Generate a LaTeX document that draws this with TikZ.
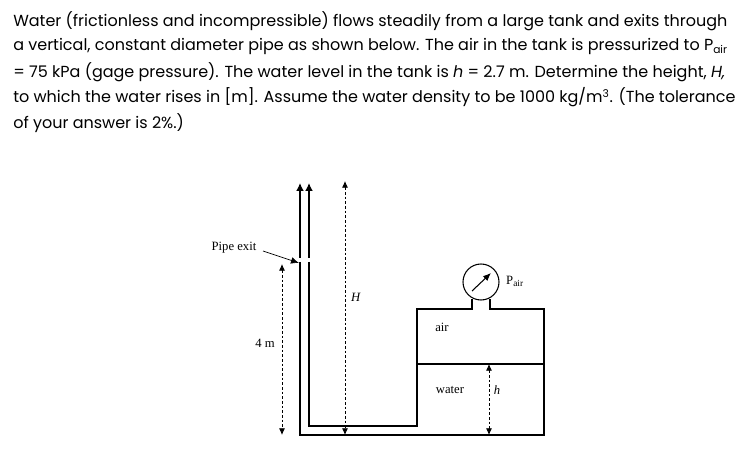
\documentclass[tikz,border=0pt]{standalone}
\usepackage{fontspec}
\setmainfont{Liberation Serif}
\newfontfamily\pop{Poppins}
\usetikzlibrary{arrows.meta}
\begin{document}
\begin{tikzpicture}[x=0.75pt,y=-0.75pt,
  para/.style={anchor=west,inner sep=0,font=\pop\fontsize{12pt}{14pt}\selectfont},
  lab/.style={inner sep=1pt,font=\fontsize{9.5pt}{10pt}\selectfont},
  wall/.style={line width=0.9pt},
  dim/.style={dashed,dash pattern=on 2pt off 1.5pt,line width=0.6pt,{Latex[length=5pt,width=4.5pt]}-{Latex[length=5pt,width=4.5pt]}},
  flow/.style={line width=2pt,-{Latex[length=6pt,width=6pt]}}]
\useasboundingbox (0,0) rectangle (744,470);
\node[para] (t1) at (13,21) {Water (frictionless and incompressible) flows steadily from a large tank and exits through};
\node[para] (t2) at (13,46.5) {a vertical, constant diameter pipe as shown below. The air in the tank is pressurized to P\textsubscript{air}};
\node[para] (t3) at (13,72) {= 75 kPa (gage pressure). The water level in the tank is \textit{h} = 2.7 m. Determine the height, \textit{H,}};
\node[para] (t4) at (13,97.5) {to which the water rises in [m]. Assume the water density to be 1000 kg/m\textsuperscript{3}. (The tolerance};
\node[para] (t5) at (13,123) {of your answer is 2\%.)};
% pipe and tank
\draw[wall] (300,262) -- (300,435) -- (544,435) -- (544,309) -- (490,309) -- (490,299);
\draw[wall] (309,262) -- (309,426) -- (417,426) -- (417,309) -- (472,309) -- (472,299);
\draw[wall] (417,364) -- (544,364);
\node[draw,circle,minimum size=27pt,inner sep=0,line width=0.8pt] (g) at (481,282) {};
\draw[line width=0.8pt,-{Latex[length=6pt,width=5pt]}] (472,291) -- (491,273);
\coordinate (l1) at (300,258); \coordinate (l1t) at (300,183);
\coordinate (l2) at (309,258); \coordinate (l2t) at (309,183);
\draw[flow] (l1) -- (l1t);
\draw[flow] (l2) -- (l2t);
\coordinate (a1) at (282,264); \coordinate (a2) at (282,435);
\draw[dim] (a1) -- (a2);
\coordinate (b1) at (345,181); \coordinate (b2) at (345,435);
\draw[dim] (b1) -- (b2);
\coordinate (c1) at (489,364); \coordinate (c2) at (489,435);
\draw[dim] (c1) -- (c2);
\node[lab] (pe) at (234,248) {Pipe exit};
\coordinate (pex) at (299,263);
\draw[line width=0.5pt,-{Latex[length=6pt,width=5pt]}] (263,251) -- (pex);
\node[lab] (pair) at (515,281) {P\textsubscript{\scriptsize air}};
\node[lab] (air) at (442,327) {air};
\node[lab] (water) at (450,390) {water};
\node[lab] (H) at (356,297) {\textit{H}};
\node[lab] (h) at (497,390) {\textit{h}};
\node[lab] (m4) at (265,343) {4 m};
\end{tikzpicture}
\end{document}
